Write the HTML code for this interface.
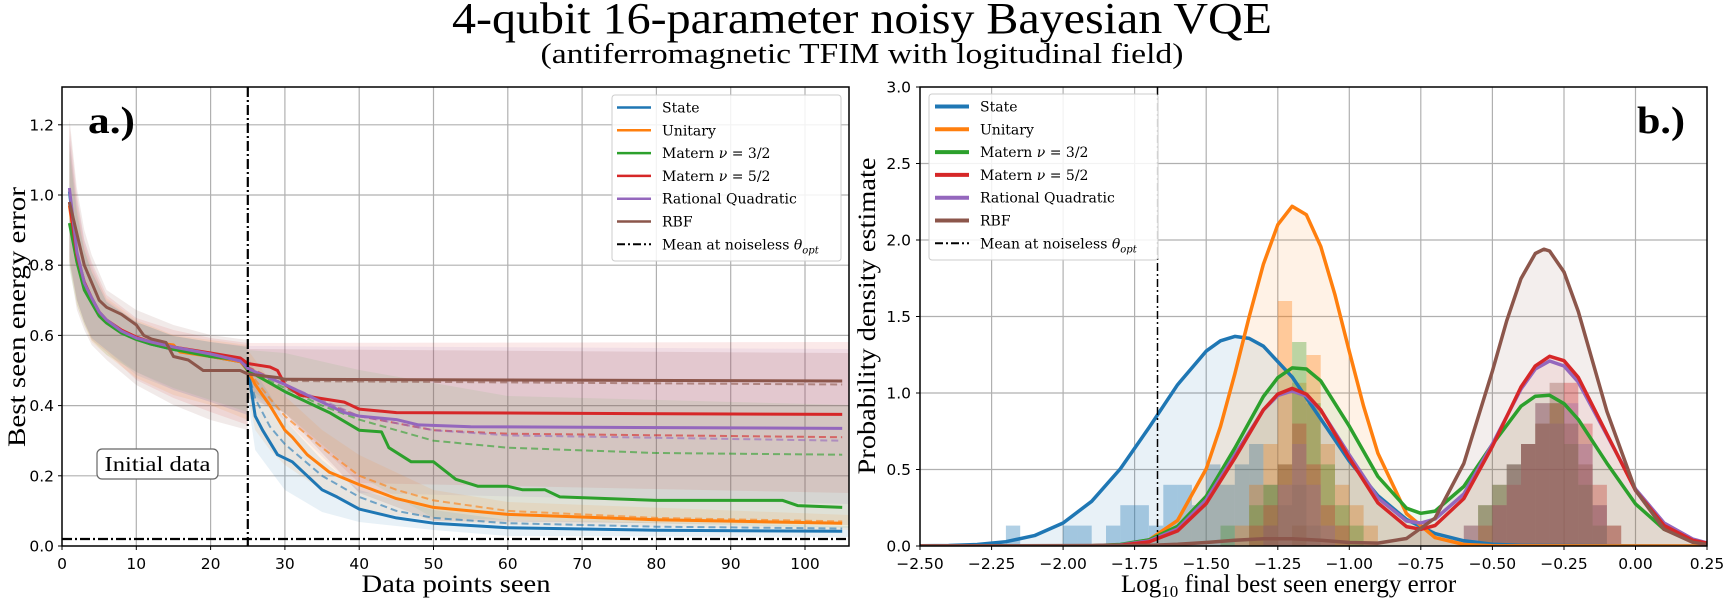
<!DOCTYPE html>
<html><head><meta charset="utf-8"><style>
html,body{margin:0;padding:0;background:#fff;}
svg{display:block;}
.tk{font-family:"DejaVu Sans",sans-serif;font-size:15.5px;}
.lg{font-family:"DejaVu Serif",serif;font-size:14px;}
.sf{font-family:"Liberation Serif",serif;}
</style></head><body>
<svg width="1725" height="600" viewBox="0 0 1725 600" xmlns="http://www.w3.org/2000/svg">
<defs>
<clipPath id="cl"><rect x="62" y="87" width="787" height="459"/></clipPath>
<clipPath id="cr"><rect x="920" y="87" width="787" height="459"/></clipPath>
</defs>
<text class="sf" x="862" y="33" text-anchor="middle" font-size="44" textLength="820" lengthAdjust="spacingAndGlyphs">4-qubit 16-parameter noisy Bayesian VQE</text>
<text class="sf" x="862" y="63" text-anchor="middle" font-size="29" textLength="643" lengthAdjust="spacingAndGlyphs">(antiferromagnetic TFIM with logitudinal field)</text>

<!-- LEFT grid -->
<g stroke="#b0b0b0" stroke-width="1.2">
<line x1="136.3" y1="87" x2="136.3" y2="546"/><line x1="210.6" y1="87" x2="210.6" y2="546"/><line x1="284.9" y1="87" x2="284.9" y2="546"/><line x1="359.2" y1="87" x2="359.2" y2="546"/><line x1="433.5" y1="87" x2="433.5" y2="546"/><line x1="507.8" y1="87" x2="507.8" y2="546"/><line x1="582.1" y1="87" x2="582.1" y2="546"/><line x1="656.4" y1="87" x2="656.4" y2="546"/><line x1="730.7" y1="87" x2="730.7" y2="546"/><line x1="805" y1="87" x2="805" y2="546"/>
<line x1="62" y1="475.8" x2="849" y2="475.8"/><line x1="62" y1="405.6" x2="849" y2="405.6"/><line x1="62" y1="335.4" x2="849" y2="335.4"/><line x1="62" y1="265.2" x2="849" y2="265.2"/><line x1="62" y1="195" x2="849" y2="195"/><line x1="62" y1="124.8" x2="849" y2="124.8"/>
</g>
<g clip-path="url(#cl)">
<!-- early bands -->
<polygon fill="#8c564b" fill-opacity="0.12" points="69.4,117.8 76.9,188 84.3,230 91.7,255 106.6,290 136.3,310 173.5,325 210.6,335 247.8,340 247.8,430 210.6,420 173.5,405 136.3,385 106.6,360 91.7,345 84.3,330 76.9,310 69.4,265"/>
<polygon fill="#d62728" fill-opacity="0.1" points="69.4,125 76.9,195 84.3,240 91.7,262 106.6,295 136.3,318 173.5,330 210.6,338 247.8,343 247.8,425 210.6,412 173.5,398 136.3,380 106.6,352 91.7,340 84.3,322 76.9,300 69.4,260"/>
<polygon fill="#ff7f0e" fill-opacity="0.1" points="69.4,140 76.9,205 84.3,245 91.7,268 106.6,298 136.3,320 173.5,335 210.6,340 247.8,345 247.8,420 210.6,405 173.5,395 136.3,378 106.6,355 91.7,342 84.3,325 76.9,305 69.4,262"/>
<polygon fill="#9467bd" fill-opacity="0.1" points="69.4,135 76.9,200 84.3,240 91.7,265 106.6,300 136.3,322 173.5,336 210.6,342 247.8,346 247.8,415 210.6,402 173.5,390 136.3,372 106.6,350 91.7,338 84.3,322 76.9,300 69.4,255"/>
<polygon fill="#2ca02c" fill-opacity="0.08" points="69.4,150 76.9,215 84.3,250 91.7,272 106.6,302 136.3,322 173.5,336 210.6,342 247.8,347 247.8,412 210.6,400 173.5,388 136.3,372 106.6,355 91.7,340 84.3,325 76.9,305 69.4,270"/>
<polygon fill="#1f77b4" fill-opacity="0.08" points="69.4,140 76.9,210 84.3,250 91.7,272 106.6,302 136.3,322 173.5,336 210.6,342 247.8,347 247.8,415 210.6,402 173.5,390 136.3,375 106.6,350 91.7,338 84.3,322 76.9,300 69.4,262"/>
<!-- late bands -->
<polygon fill="#8c564b" fill-opacity="0.14" points="247.8,349 842.2,353 849,353 849,525 433.5,521 359.2,493 284.9,413 247.8,398"/>
<polygon fill="#d62728" fill-opacity="0.1" points="247.8,343 849,342 849,493 359.2,483 284.9,413 247.8,388"/>
<polygon fill="#9467bd" fill-opacity="0.1" points="247.8,346 849,349 849,504 359.2,493 284.9,420 247.8,392"/>
<polygon fill="#2ca02c" fill-opacity="0.08" points="247.8,350 284.9,353 359.2,370 507.8,396 849,405 849,528 433.5,518 359.2,476 284.9,413 247.8,392"/>
<polygon fill="#ff7f0e" fill-opacity="0.1" points="247.8,350 255.2,360 270,380 284.9,396 322.1,430 359.2,455 433.5,490 507.8,502 849,515 849,530 507.8,525 433.5,521 359.2,510 322.1,490 284.9,465 270,450 255.2,430 247.8,395"/>
<polygon fill="#1f77b4" fill-opacity="0.1" points="247.8,355 255.2,372 270,395 284.9,420 322.1,460 359.2,490 433.5,510 507.8,520 849,526 849,537 507.8,536 433.5,530 359.2,522 322.1,512 284.9,490 270,470 255.2,450 247.8,400"/>
<!-- dashed -->
<g fill="none" stroke-width="2" stroke-opacity="0.6" stroke-dasharray="7,4">
<polyline stroke="#1f77b4" points="247.8,370.5 255.2,398.6 270,426.7 284.9,444.2 322.1,475.8 359.2,496.9 396.4,510.9 433.5,517.9 507.8,523.2 656.4,526.7 842.2,528.5"/>
<polyline stroke="#ff7f0e" points="247.8,370.5 270,398.6 284.9,416.1 322.1,447.7 359.2,475.8 396.4,489.8 433.5,500.4 507.8,510.9 656.4,517.9 842.2,521.4"/>
<polyline stroke="#2ca02c" points="247.8,370.5 284.9,388 322.1,405.6 359.2,419.6 396.4,430.2 433.5,440.7 507.8,447.7 656.4,453 842.2,454.7"/>
<polyline stroke="#d62728" points="247.8,367 284.9,384.5 322.1,402.1 359.2,416.1 396.4,423.2 433.5,430.2 507.8,433.7 842.2,437.2"/>
<polyline stroke="#9467bd" points="247.8,370.5 284.9,384.5 359.2,416.1 433.5,430.2 507.8,435.4 842.2,440.7"/>
<polyline stroke="#8c564b" points="247.8,374 284.9,381 842.2,384.5"/>
</g>
<!-- solid -->
<g fill="none" stroke-width="3" stroke-linejoin="round">
<polyline stroke="#1f77b4" points="69.4,191.5 76.9,258.2 84.3,286.3 91.7,300.3 99.2,314.3 106.6,321.4 121.4,331.9 136.3,338.9 151.2,344.2 173.5,349.4 210.6,356.5 240.3,361.7 247.8,367 255.2,416.1 262.6,430.2 277.5,454.7 292.3,461.8 307.2,475.8 322.1,489.8 336.9,496.9 359.2,509.1 396.4,517.9 433.5,523.2 507.8,527.7 656.4,530.2 842.2,531.3"/>
<polyline stroke="#ff7f0e" points="69.4,205.5 76.9,258.2 84.3,286.3 91.7,300.3 99.2,314.3 106.6,321.4 121.4,331.9 136.3,338.9 151.2,342 173.5,345 180,352 210.6,356.5 240.3,361.7 247.8,370.5 255.2,384.5 270,405.6 284.9,430.2 292.3,437.2 307.2,454.7 329.5,472.3 359.2,484.6 396.4,498.6 433.5,507.4 507.8,514.4 656.4,519.7 842.2,523.2"/>
<polyline stroke="#2ca02c" points="69.4,223.1 76.9,262 84.3,290 91.7,303 99.2,316 106.6,323 121.4,333 136.3,339.5 151.2,344.2 173.5,349.4 210.6,356.5 240.3,360 247.8,370.5 284.9,391.6 307.2,402.1 329.5,412.6 359.2,430.2 381.5,431.9 388.9,447.7 411.2,461.8 433.5,461.8 455.8,479.3 478.1,486.3 507.8,486.3 522.7,489.8 545,489.8 559.8,496.9 656.4,500.4 782.7,500.4 797.6,505.6 842.2,507.4"/>
<polyline stroke="#d62728" points="69.4,202 76.9,255 84.3,282 91.7,298 99.2,312 106.6,320 121.4,330 136.3,337 151.2,342 173.5,347 210.6,353 240.3,358 247.8,363.5 270,367 277.5,370.5 284.9,384.5 299.8,395.1 322.1,398.6 344.3,402.1 359.2,409.1 396.4,412.6 842.2,414.4"/>
<polyline stroke="#9467bd" points="69.4,188 76.9,252 84.3,283 91.7,298 99.2,312 106.6,320 121.4,331 136.3,338 151.2,342 173.5,347 210.6,354 240.3,361 247.8,368.7 284.9,384.5 299.8,391.6 322.1,402.1 344.3,412.6 359.2,416.1 396.4,419.6 418.6,424.9 470.7,426.7 842.2,428.4"/>
<polyline stroke="#8c564b" points="69.4,202 84.3,265.2 99.2,300.3 106.6,307.3 121.4,314.3 136.3,324.9 143.7,335.4 151.2,338.9 166,342.4 173.5,356.5 188.3,360 203.2,370.5 240.3,370.5 247.8,374 277.5,377.5 284.9,379.3 842.2,381"/>
</g>
<line x1="247.8" y1="87" x2="247.8" y2="546" stroke="#000" stroke-width="2.2" stroke-dasharray="10,3,2,3"/>
<line x1="62" y1="539" x2="849" y2="539" stroke="#000" stroke-width="2.2" stroke-dasharray="10,3,2,3"/>
</g>
<rect x="62" y="87" width="787" height="459" fill="none" stroke="#000" stroke-width="1.5"/>
<g stroke="#000">
<line x1="62" y1="546" x2="62" y2="550"/><line x1="136.3" y1="546" x2="136.3" y2="550"/><line x1="210.6" y1="546" x2="210.6" y2="550"/><line x1="284.9" y1="546" x2="284.9" y2="550"/><line x1="359.2" y1="546" x2="359.2" y2="550"/><line x1="433.5" y1="546" x2="433.5" y2="550"/><line x1="507.8" y1="546" x2="507.8" y2="550"/><line x1="582.1" y1="546" x2="582.1" y2="550"/><line x1="656.4" y1="546" x2="656.4" y2="550"/><line x1="730.7" y1="546" x2="730.7" y2="550"/><line x1="805" y1="546" x2="805" y2="550"/>
<line x1="58" y1="546" x2="62" y2="546"/><line x1="58" y1="475.8" x2="62" y2="475.8"/><line x1="58" y1="405.6" x2="62" y2="405.6"/><line x1="58" y1="335.4" x2="62" y2="335.4"/><line x1="58" y1="265.2" x2="62" y2="265.2"/><line x1="58" y1="195" x2="62" y2="195"/><line x1="58" y1="124.8" x2="62" y2="124.8"/>
</g>
<g class="tk" text-anchor="middle">
<text x="62" y="569">0</text><text x="136.3" y="569">10</text><text x="210.6" y="569">20</text><text x="284.9" y="569">30</text><text x="359.2" y="569">40</text><text x="433.5" y="569">50</text><text x="507.8" y="569">60</text><text x="582.1" y="569">70</text><text x="656.4" y="569">80</text><text x="730.7" y="569">90</text><text x="805" y="569">100</text>
</g>
<g class="tk" text-anchor="end">
<text x="54" y="551.5">0.0</text><text x="54" y="481.3">0.2</text><text x="54" y="411.1">0.4</text><text x="54" y="340.9">0.6</text><text x="54" y="270.7">0.8</text><text x="54" y="200.5">1.0</text><text x="54" y="130.3">1.2</text>
</g>
<text class="sf" x="456" y="592" text-anchor="middle" font-size="25" textLength="189" lengthAdjust="spacingAndGlyphs">Data points seen</text>
<text class="sf" transform="translate(25,317) rotate(-90)" text-anchor="middle" font-size="25" textLength="260" lengthAdjust="spacingAndGlyphs">Best seen energy error</text>
<text class="sf" x="88" y="133" font-size="38" font-weight="bold" textLength="47" lengthAdjust="spacingAndGlyphs">a.)</text>
<rect x="97" y="449" width="121" height="30" rx="5" fill="#fff" stroke="#666" stroke-width="1.2"/>
<text class="sf" x="157.5" y="471" text-anchor="middle" font-size="21" textLength="106" lengthAdjust="spacingAndGlyphs">Initial data</text>

<!-- left legend -->
<rect x="612" y="95" width="229" height="166" rx="3" fill="#fff" fill-opacity="0.85" stroke="#ccc"/>
<g stroke-width="2.5">
<line x1="617" y1="107.5" x2="651" y2="107.5" stroke="#1f77b4"/><line x1="617" y1="130.3" x2="651" y2="130.3" stroke="#ff7f0e"/><line x1="617" y1="153.1" x2="651" y2="153.1" stroke="#2ca02c"/><line x1="617" y1="175.9" x2="651" y2="175.9" stroke="#d62728"/><line x1="617" y1="198.7" x2="651" y2="198.7" stroke="#9467bd"/><line x1="617" y1="221.5" x2="651" y2="221.5" stroke="#8c564b"/>
</g>
<line x1="617" y1="244.3" x2="651" y2="244.3" stroke="#000" stroke-width="2" stroke-dasharray="8,3,2,3"/>
<g class="lg">
<text x="662" y="112.5">State</text><text x="662" y="135.3">Unitary</text><text x="662" y="158.1">Matern <tspan font-style="italic">ν</tspan> = 3/2</text><text x="662" y="180.9">Matern <tspan font-style="italic">ν</tspan> = 5/2</text><text x="662" y="203.7">Rational Quadratic</text><text x="662" y="226.5">RBF</text><text x="662" y="249.3">Mean at noiseless <tspan font-style="italic">θ</tspan><tspan font-style="italic" font-size="10" dy="4">opt</tspan></text>
</g>

<!-- RIGHT grid -->
<g stroke="#b0b0b0" stroke-width="1.2">
<line x1="991.6" y1="87" x2="991.6" y2="546"/><line x1="1063.1" y1="87" x2="1063.1" y2="546"/><line x1="1134.6" y1="87" x2="1134.6" y2="546"/><line x1="1206.2" y1="87" x2="1206.2" y2="546"/><line x1="1277.8" y1="87" x2="1277.8" y2="546"/><line x1="1349.3" y1="87" x2="1349.3" y2="546"/><line x1="1420.8" y1="87" x2="1420.8" y2="546"/><line x1="1492.4" y1="87" x2="1492.4" y2="546"/><line x1="1564" y1="87" x2="1564" y2="546"/><line x1="1635.5" y1="87" x2="1635.5" y2="546"/>
<line x1="920" y1="469.5" x2="1707" y2="469.5"/><line x1="920" y1="393" x2="1707" y2="393"/><line x1="920" y1="316.5" x2="1707" y2="316.5"/><line x1="920" y1="240" x2="1707" y2="240"/><line x1="920" y1="163.5" x2="1707" y2="163.5"/>
</g>
<g clip-path="url(#cr)">
<!-- histograms -->
<g fill="#1f77b4" fill-opacity="0.35">
<rect x="1005.9" y="525.6" width="14.3" height="20.4"/><rect x="1063.1" y="525.6" width="14.3" height="20.4"/><rect x="1077.4" y="525.6" width="14.3" height="20.4"/><rect x="1106" y="525.6" width="14.3" height="20.4"/><rect x="1120.3" y="505.2" width="14.3" height="40.8"/><rect x="1134.6" y="505.2" width="14.3" height="40.8"/><rect x="1149" y="525.6" width="14.3" height="20.4"/><rect x="1163.3" y="484.8" width="14.3" height="61.2"/><rect x="1177.6" y="484.8" width="14.3" height="61.2"/><rect x="1191.9" y="505.2" width="14.3" height="40.8"/><rect x="1206.2" y="464.4" width="14.3" height="81.6"/><rect x="1220.5" y="484.8" width="14.3" height="61.2"/><rect x="1234.8" y="464.4" width="14.3" height="81.6"/><rect x="1249.1" y="444" width="14.3" height="102"/><rect x="1263.4" y="484.8" width="14.3" height="61.2"/><rect x="1277.8" y="505.2" width="14.3" height="40.8"/><rect x="1292.1" y="484.8" width="14.3" height="61.2"/><rect x="1306.4" y="525.6" width="14.3" height="20.4"/>
</g>
<g fill="#ff7f0e" fill-opacity="0.35">
<rect x="1234.8" y="525.6" width="14.3" height="20.4"/><rect x="1249.1" y="484.8" width="14.3" height="61.2"/><rect x="1263.4" y="444" width="14.3" height="102"/><rect x="1277.8" y="301" width="14.3" height="245"/><rect x="1292.1" y="382.8" width="14.3" height="163.2"/><rect x="1306.4" y="355" width="14.3" height="191"/><rect x="1320.7" y="444" width="14.3" height="102"/><rect x="1335" y="484.8" width="14.3" height="61.2"/><rect x="1349.3" y="505.2" width="14.3" height="40.8"/><rect x="1363.6" y="525.6" width="14.3" height="20.4"/>
</g>
<g fill="#2ca02c" fill-opacity="0.35">
<rect x="1220.5" y="525.6" width="14.3" height="20.4"/><rect x="1249.1" y="505.2" width="14.3" height="40.8"/><rect x="1263.4" y="484.8" width="14.3" height="61.2"/><rect x="1277.8" y="464.4" width="14.3" height="81.6"/><rect x="1292.1" y="342" width="14.3" height="204"/><rect x="1306.4" y="403.2" width="14.3" height="142.8"/><rect x="1320.7" y="464.4" width="14.3" height="81.6"/><rect x="1335" y="505.2" width="14.3" height="40.8"/><rect x="1349.3" y="525.6" width="14.3" height="20.4"/>
<rect x="1478.1" y="505.2" width="14.3" height="40.8"/><rect x="1492.4" y="484.8" width="14.3" height="61.2"/><rect x="1506.7" y="464.4" width="14.3" height="81.6"/><rect x="1521" y="444" width="14.3" height="102"/><rect x="1535.3" y="423.6" width="14.3" height="122.4"/><rect x="1549.6" y="403.2" width="14.3" height="142.8"/><rect x="1564" y="444" width="14.3" height="102"/><rect x="1578.3" y="484.8" width="14.3" height="61.2"/><rect x="1592.6" y="525.6" width="14.3" height="20.4"/>
</g>
<g fill="#d62728" fill-opacity="0.35">
<rect x="1249.1" y="525.6" width="14.3" height="20.4"/><rect x="1263.4" y="505.2" width="14.3" height="40.8"/><rect x="1277.8" y="464.4" width="14.3" height="81.6"/><rect x="1292.1" y="423.6" width="14.3" height="122.4"/><rect x="1306.4" y="464.4" width="14.3" height="81.6"/><rect x="1320.7" y="505.2" width="14.3" height="40.8"/><rect x="1335" y="525.6" width="14.3" height="20.4"/>
<rect x="1478.1" y="525.6" width="14.3" height="20.4"/><rect x="1492.4" y="505.2" width="14.3" height="40.8"/><rect x="1506.7" y="484.8" width="14.3" height="61.2"/><rect x="1521" y="444" width="14.3" height="102"/><rect x="1535.3" y="423.6" width="14.3" height="122.4"/><rect x="1549.6" y="403.2" width="14.3" height="142.8"/><rect x="1564" y="382.8" width="14.3" height="163.2"/><rect x="1578.3" y="423.6" width="14.3" height="122.4"/><rect x="1592.6" y="484.8" width="14.3" height="61.2"/><rect x="1606.9" y="525.6" width="14.3" height="20.4"/>
</g>
<g fill="#9467bd" fill-opacity="0.35">
<rect x="1263.4" y="525.6" width="14.3" height="20.4"/><rect x="1277.8" y="484.8" width="14.3" height="61.2"/><rect x="1292.1" y="444" width="14.3" height="102"/><rect x="1306.4" y="484.8" width="14.3" height="61.2"/><rect x="1320.7" y="525.6" width="14.3" height="20.4"/>
<rect x="1463.8" y="525.6" width="14.3" height="20.4"/><rect x="1492.4" y="505.2" width="14.3" height="40.8"/><rect x="1506.7" y="464.4" width="14.3" height="81.6"/><rect x="1521" y="444" width="14.3" height="102"/><rect x="1535.3" y="403.2" width="14.3" height="142.8"/><rect x="1549.6" y="423.6" width="14.3" height="122.4"/><rect x="1564" y="403.2" width="14.3" height="142.8"/><rect x="1578.3" y="444" width="14.3" height="102"/><rect x="1592.6" y="505.2" width="14.3" height="40.8"/>
</g>
<g fill="#8c564b" fill-opacity="0.35">
<rect x="1263.4" y="525.6" width="14.3" height="20.4"/><rect x="1292.1" y="525.6" width="14.3" height="20.4"/>
<rect x="1463.8" y="525.6" width="14.3" height="20.4"/><rect x="1478.1" y="505.2" width="14.3" height="40.8"/><rect x="1492.4" y="484.8" width="14.3" height="61.2"/><rect x="1506.7" y="464.4" width="14.3" height="81.6"/><rect x="1521" y="444" width="14.3" height="102"/><rect x="1535.3" y="403.2" width="14.3" height="142.8"/><rect x="1549.6" y="382.8" width="14.3" height="163.2"/><rect x="1564" y="423.6" width="14.3" height="122.4"/><rect x="1578.3" y="464.4" width="14.3" height="81.6"/><rect x="1592.6" y="505.2" width="14.3" height="40.8"/><rect x="1606.9" y="525.6" width="14.3" height="20.4"/>
</g>
<!-- KDE fills -->
<polygon fill="#1f77b4" fill-opacity="0.1" points="920,546 920,545.8 948.6,545.5 977.2,544.5 1005.9,541.7 1034.5,535.6 1063.1,523 1091.7,501.3 1120.3,468.9 1149,427.6 1177.6,384.7 1206.2,351.1 1220.5,340.8 1234.8,336.4 1249.1,338.4 1263.4,346.2 1292.1,376.9 1320.7,418.9 1349.3,461.1 1377.9,495.7 1406.5,519.5 1435.1,533.6 1463.8,540.8 1492.4,544.2 1521,545.4 1707,546"/>
<polygon fill="#ff7f0e" fill-opacity="0.1" points="920,546 1091.7,545.8 1120.3,544.9 1149,539.9 1177.6,520.4 1206.2,468.9 1220.5,426.4 1234.8,374 1249.1,317.1 1263.4,264.2 1277.8,224.7 1292.1,206.3 1306.4,214.8 1320.7,246.3 1335,294.9 1349.3,351.4 1363.6,406.3 1377.9,453.3 1406.5,513.6 1435.1,537.6 1463.8,544.5 1492.4,545.8 1707,546"/>
<polygon fill="#2ca02c" fill-opacity="0.08" points="920,546 1091.7,545.7 1120.3,544.5 1149,539.9 1177.6,526.3 1206.2,496.3 1234.8,448.2 1263.4,396.5 1277.8,377.7 1292.1,367.9 1306.4,369 1320.7,380.8 1349.3,426.2 1377.9,476.5 1406.5,508.2 1420.8,513.3 1435.1,511.1 1463.8,486.5 1492.4,444.4 1521,406.2 1535.3,396.2 1549.6,395.3 1564,403.6 1578.3,419.5 1606.9,463.2 1635.5,503.9 1664.1,529.3 1692.7,540.8 1707,543.4 1707,546"/>
<polygon fill="#d62728" fill-opacity="0.08" points="920,546 1091.7,545.8 1120.3,545.2 1149,541.9 1177.6,530.9 1206.2,503.6 1234.8,458.2 1263.4,409.8 1277.8,394.1 1292.1,388.4 1306.4,394.1 1320.7,409.8 1349.3,458.2 1377.9,502.9 1406.5,526.6 1420.8,529.3 1435.1,525.5 1463.8,498.6 1492.4,446.4 1521,387 1535.3,365.9 1549.6,356.3 1564,360.7 1578.3,377.4 1606.9,434 1635.5,490.5 1664.1,525.5 1692.7,540.3 1707,543.2 1707,546"/>
<polygon fill="#8c564b" fill-opacity="0.1" points="920,546 1149,545.4 1177.6,544.3 1206.2,542.5 1234.8,540.2 1263.4,538.7 1292.1,538.7 1320.7,540.2 1349.3,542.5 1377.9,543.1 1406.5,538.5 1435.1,518 1463.8,463.5 1492.4,371.1 1506.7,320.8 1521,278.6 1535.3,253.5 1543.9,249.2 1549.6,251 1564,272 1578.3,311.5 1606.9,411.4 1635.5,490.2 1664.1,529.3 1692.7,542.3 1707,544.5 1707,546"/>
<!-- KDE lines -->
<g fill="none" stroke-width="3.5" stroke-linejoin="round">
<polyline stroke="#1f77b4" points="920,545.8 948.6,545.5 977.2,544.5 1005.9,541.7 1034.5,535.6 1063.1,523 1091.7,501.3 1120.3,468.9 1149,427.6 1177.6,384.7 1206.2,351.1 1220.5,340.8 1234.8,336.4 1249.1,338.4 1263.4,346.2 1292.1,376.9 1320.7,418.9 1349.3,461.1 1377.9,495.7 1406.5,519.5 1435.1,533.6 1463.8,540.8 1492.4,544.2 1521,545.4 1707,546"/>
<polyline stroke="#ff7f0e" points="920,546 1091.7,545.8 1120.3,544.9 1149,539.9 1177.6,520.4 1206.2,468.9 1220.5,426.4 1234.8,374 1249.1,317.1 1263.4,264.2 1277.8,224.7 1292.1,206.3 1306.4,214.8 1320.7,246.3 1335,294.9 1349.3,351.4 1363.6,406.3 1377.9,453.3 1406.5,513.6 1435.1,537.6 1463.8,544.5 1492.4,545.8 1707,546"/>
<polyline stroke="#2ca02c" points="920,546 1091.7,545.7 1120.3,544.5 1149,539.9 1177.6,526.3 1206.2,496.3 1234.8,448.2 1263.4,396.5 1277.8,377.7 1292.1,367.9 1306.4,369 1320.7,380.8 1349.3,426.2 1377.9,476.5 1406.5,508.2 1420.8,513.3 1435.1,511.1 1463.8,486.5 1492.4,444.4 1521,406.2 1535.3,396.2 1549.6,395.3 1564,403.6 1578.3,419.5 1606.9,463.2 1635.5,503.9 1664.1,529.3 1692.7,540.8 1707,543.4"/>
<polyline stroke="#9467bd" points="920,546 1091.7,545.7 1120.3,545 1149,541 1177.6,529 1206.2,500 1234.8,455 1263.4,410 1277.8,395.5 1292.1,391 1306.4,396 1320.7,410 1349.3,455 1377.9,498 1406.5,521 1420.8,523 1435.1,519 1463.8,494 1492.4,444 1521,389 1535.3,369 1549.6,361 1564,366 1578.3,382 1606.9,435 1635.5,489 1664.1,523 1692.7,539 1707,543"/>
<polyline stroke="#d62728" points="920,546 1091.7,545.8 1120.3,545.2 1149,541.9 1177.6,530.9 1206.2,503.6 1234.8,458.2 1263.4,409.8 1277.8,394.1 1292.1,388.4 1306.4,394.1 1320.7,409.8 1349.3,458.2 1377.9,502.9 1406.5,526.6 1420.8,529.3 1435.1,525.5 1463.8,498.6 1492.4,446.4 1521,387 1535.3,365.9 1549.6,356.3 1564,360.7 1578.3,377.4 1606.9,434 1635.5,490.5 1664.1,525.5 1692.7,540.3 1707,543.2"/>
<polyline stroke="#8c564b" points="920,546 1149,545.4 1177.6,544.3 1206.2,542.5 1234.8,540.2 1263.4,538.7 1292.1,538.7 1320.7,540.2 1349.3,542.5 1377.9,543.1 1406.5,538.5 1435.1,518 1463.8,463.5 1492.4,371.1 1506.7,320.8 1521,278.6 1535.3,253.5 1543.9,249.2 1549.6,251 1564,272 1578.3,311.5 1606.9,411.4 1635.5,490.2 1664.1,529.3 1692.7,542.3 1707,544.5"/>
</g>
<line x1="1157.5" y1="87" x2="1157.5" y2="546" stroke="#000" stroke-width="1.5" stroke-dasharray="8,3,2,3"/>
</g>
<rect x="920" y="87" width="787" height="459" fill="none" stroke="#000" stroke-width="1.5"/>
<g stroke="#000">
<line x1="920" y1="546" x2="920" y2="550"/><line x1="991.6" y1="546" x2="991.6" y2="550"/><line x1="1063.1" y1="546" x2="1063.1" y2="550"/><line x1="1134.6" y1="546" x2="1134.6" y2="550"/><line x1="1206.2" y1="546" x2="1206.2" y2="550"/><line x1="1277.8" y1="546" x2="1277.8" y2="550"/><line x1="1349.3" y1="546" x2="1349.3" y2="550"/><line x1="1420.8" y1="546" x2="1420.8" y2="550"/><line x1="1492.4" y1="546" x2="1492.4" y2="550"/><line x1="1564" y1="546" x2="1564" y2="550"/><line x1="1635.5" y1="546" x2="1635.5" y2="550"/><line x1="1707" y1="546" x2="1707" y2="550"/>
<line x1="916" y1="546" x2="920" y2="546"/><line x1="916" y1="469.5" x2="920" y2="469.5"/><line x1="916" y1="393" x2="920" y2="393"/><line x1="916" y1="316.5" x2="920" y2="316.5"/><line x1="916" y1="240" x2="920" y2="240"/><line x1="916" y1="163.5" x2="920" y2="163.5"/><line x1="916" y1="87" x2="920" y2="87"/>
</g>
<g class="tk" text-anchor="middle">
<text x="920" y="569">−2.50</text><text x="991.6" y="569">−2.25</text><text x="1063.1" y="569">−2.00</text><text x="1134.6" y="569">−1.75</text><text x="1206.2" y="569">−1.50</text><text x="1277.8" y="569">−1.25</text><text x="1349.3" y="569">−1.00</text><text x="1420.8" y="569">−0.75</text><text x="1492.4" y="569">−0.50</text><text x="1564" y="569">−0.25</text><text x="1635.5" y="569">0.00</text><text x="1707" y="569">0.25</text>
</g>
<g class="tk" text-anchor="end">
<text x="911" y="551.5">0.0</text><text x="911" y="475">0.5</text><text x="911" y="398.5">1.0</text><text x="911" y="322">1.5</text><text x="911" y="245.5">2.0</text><text x="911" y="169">2.5</text><text x="911" y="92.5">3.0</text>
</g>
<text class="sf" x="1121" y="592" font-size="25">Log<tspan font-size="17" dy="5">10</tspan><tspan dy="-5"> final best seen energy error</tspan></text>
<text class="sf" transform="translate(875,316) rotate(-90)" text-anchor="middle" font-size="25" textLength="317" lengthAdjust="spacingAndGlyphs">Probability density estimate</text>
<text class="sf" x="1637" y="133" font-size="38" font-weight="bold" textLength="48" lengthAdjust="spacingAndGlyphs">b.)</text>

<!-- right legend -->
<rect x="929" y="94" width="229" height="166" rx="3" fill="#fff" fill-opacity="0.85" stroke="#ccc"/>
<g stroke-width="4">
<line x1="935" y1="106.5" x2="969" y2="106.5" stroke="#1f77b4"/><line x1="935" y1="129.3" x2="969" y2="129.3" stroke="#ff7f0e"/><line x1="935" y1="152.1" x2="969" y2="152.1" stroke="#2ca02c"/><line x1="935" y1="174.9" x2="969" y2="174.9" stroke="#d62728"/><line x1="935" y1="197.7" x2="969" y2="197.7" stroke="#9467bd"/><line x1="935" y1="220.5" x2="969" y2="220.5" stroke="#8c564b"/>
</g>
<line x1="935" y1="243.3" x2="969" y2="243.3" stroke="#000" stroke-width="2" stroke-dasharray="8,3,2,3"/>
<g class="lg">
<text x="980" y="111.5">State</text><text x="980" y="134.3">Unitary</text><text x="980" y="157.1">Matern <tspan font-style="italic">ν</tspan> = 3/2</text><text x="980" y="179.9">Matern <tspan font-style="italic">ν</tspan> = 5/2</text><text x="980" y="202.7">Rational Quadratic</text><text x="980" y="225.5">RBF</text><text x="980" y="248.3">Mean at noiseless <tspan font-style="italic">θ</tspan><tspan font-style="italic" font-size="10" dy="4">opt</tspan></text>
</g>
</svg>
</body></html>
